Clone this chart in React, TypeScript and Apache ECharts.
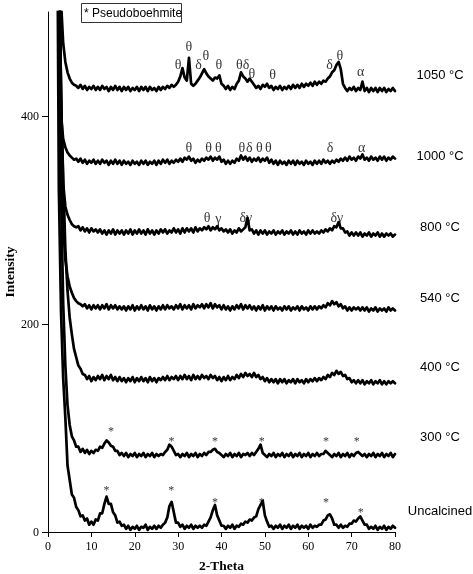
import React, { useEffect, useRef } from "react";
import * as echarts from "echarts";

// scan grid: 2θ from 2° to 80° in 0.5° steps
const twoTheta: number[] = Array.from({ length: 157 }, (_, i) => 2 + i * 0.5);

const uncalcined = [
  700, 330, 212, 148, 110, 64, 50, 36, 33, 24,
  21, 15, 16, 11, 13, 7, 10, 7, 12, 11,
  18, 18, 27, 34, 27, 27, 19, 16, 9, 10,
  6, 7, 3, 6, 2, 5, 3, 6, 2, 5,
  4, 7, 2, 5, 3, 6, 3, 6, 4, 7,
  9, 14, 25, 29, 19, 9, 9, 5, 7, 3,
  6, 4, 7, 3, 6, 4, 6, 4, 7, 6,
  10, 14, 21, 26, 16, 11, 6, 6, 3, 6,
  4, 7, 3, 6, 5, 8, 7, 10, 9, 12,
  11, 14, 15, 22, 26, 30, 16, 10, 5, 6,
  3, 6, 4, 7, 3, 6, 4, 7, 3, 6,
  4, 7, 3, 6, 4, 6, 3, 7, 4, 6,
  5, 7, 7, 11, 12, 16, 17, 13, 7, 7,
  4, 7, 4, 6, 5, 8, 8, 11, 10, 13,
  15, 11, 7, 7, 3, 5, 3, 6, 2, 5,
  3, 6, 2, 5, 3, 6, 4,
];

const c300 = [
  900, 520, 330, 220, 160, 122, 103, 92, 88, 82,
  82, 77, 80, 76, 79, 75, 78, 76, 79, 78,
  82, 81, 85, 88, 86, 83, 82, 78, 78, 74,
  76, 73, 76, 72, 75, 73, 76, 72, 75, 73,
  76, 72, 75, 73, 76, 72, 75, 73, 75, 74,
  77, 79, 84, 82, 78, 74, 75, 72, 75, 73,
  76, 72, 75, 73, 76, 72, 75, 73, 76, 74,
  77, 77, 79, 80, 77, 76, 74, 72, 75, 73,
  76, 72, 75, 73, 76, 72, 75, 74, 76, 73,
  76, 74, 77, 80, 84, 76, 74, 72, 75, 73,
  76, 72, 75, 73, 76, 72, 75, 73, 76, 72,
  75, 73, 76, 72, 75, 73, 76, 72, 75, 73,
  76, 73, 75, 75, 78, 76, 74, 72, 75, 73,
  76, 72, 75, 73, 76, 72, 75, 73, 76, 77,
  75, 73, 75, 72, 75, 73, 76, 72, 75, 73,
  76, 72, 75, 73, 76, 72, 75,
];

const c400 = [
  900, 600, 420, 340, 272, 232, 206, 190, 176, 168,
  160, 157, 152, 151, 147, 150, 145, 149, 146, 150,
  147, 151, 146, 150, 147, 151, 146, 149, 145, 149,
  145, 148, 144, 148, 145, 149, 144, 148, 145, 149,
  145, 148, 144, 149, 145, 148, 144, 148, 146, 149,
  146, 150, 146, 149, 147, 150, 146, 150, 147, 151,
  147, 150, 146, 151, 147, 150, 147, 151, 148, 150,
  147, 151, 148, 150, 146, 149, 145, 149, 146, 150,
  146, 149, 147, 151, 148, 152, 149, 153, 150, 152,
  149, 153, 149, 151, 147, 149, 145, 148, 144, 147,
  144, 147, 143, 147, 144, 147, 143, 146, 144, 147,
  143, 147, 144, 146, 143, 147, 144, 147, 145, 148,
  145, 148, 146, 149, 147, 151, 149, 153, 151, 155,
  152, 154, 150, 151, 147, 148, 144, 146, 143, 146,
  143, 146, 142, 145, 143, 146, 142, 145, 143, 146,
  142, 145, 142, 145, 143, 145, 143,
];

const c540 = [
  900, 600, 420, 295, 262, 246, 236, 230, 225, 222,
  220, 219, 217, 219, 215, 218, 214, 218, 215, 218,
  214, 218, 215, 219, 214, 218, 215, 218, 214, 217,
  214, 217, 213, 217, 214, 218, 213, 217, 214, 218,
  214, 217, 213, 218, 214, 217, 213, 217, 214, 218,
  214, 218, 215, 217, 214, 218, 215, 219, 214, 218,
  215, 218, 214, 219, 215, 218, 216, 219, 215, 219,
  216, 220, 215, 219, 216, 218, 214, 218, 214, 217,
  213, 217, 214, 218, 215, 219, 214, 218, 215, 218,
  214, 217, 213, 217, 214, 218, 213, 217, 214, 217,
  213, 217, 214, 216, 213, 217, 214, 217, 213, 216,
  214, 217, 213, 217, 214, 216, 213, 217, 214, 217,
  214, 217, 215, 218, 216, 220, 218, 222, 219, 221,
  217, 219, 215, 217, 213, 216, 213, 216, 214, 216,
  213, 216, 213, 216, 212, 215, 213, 216, 212, 215,
  213, 215, 212, 216, 213, 215, 213,
];

const c800 = [
  900, 600, 420, 335, 313, 305, 300, 296, 294, 293,
  294, 290, 293, 289, 292, 288, 292, 289, 291, 288,
  291, 287, 290, 286, 290, 287, 291, 286, 290, 287,
  290, 286, 290, 287, 291, 286, 290, 287, 291, 287,
  290, 286, 291, 287, 290, 286, 290, 287, 291, 288,
  291, 287, 290, 288, 292, 288, 291, 287, 292, 288,
  292, 289, 292, 288, 293, 289, 292, 290, 293, 291,
  294, 290, 293, 291, 294, 290, 292, 289, 291, 288,
  291, 287, 290, 288, 292, 289, 291, 293, 302, 290,
  291, 287, 290, 286, 290, 287, 290, 286, 289, 287,
  290, 286, 289, 287, 290, 286, 289, 287, 290, 286,
  289, 286, 290, 287, 289, 286, 290, 287, 290, 287,
  289, 287, 290, 288, 291, 289, 292, 290, 294, 293,
  298, 292, 292, 288, 289, 285, 288, 285, 288, 285,
  288, 284, 287, 285, 288, 284, 287, 285, 288, 284,
  287, 284, 287, 285, 287, 284, 286,
];

const c1000 = [
  900, 620, 400, 378, 370, 365, 362, 360, 358, 359,
  356, 359, 355, 358, 354, 357, 355, 358, 354, 357,
  354, 358, 355, 357, 353, 357, 354, 358, 354, 357,
  353, 357, 354, 356, 353, 357, 354, 356, 353, 357,
  354, 357, 353, 356, 354, 357, 353, 357, 354, 358,
  355, 358, 354, 357, 355, 358, 356, 359, 356, 360,
  358, 361, 357, 359, 355, 358, 356, 359, 357, 360,
  358, 361, 357, 360, 358, 361, 356, 358, 354, 357,
  354, 357, 355, 359, 357, 362, 358, 361, 357, 360,
  356, 359, 357, 360, 356, 359, 357, 360, 355, 358,
  354, 357, 353, 357, 354, 356, 353, 357, 354, 357,
  353, 357, 354, 356, 353, 357, 354, 356, 353, 357,
  354, 357, 354, 358, 355, 357, 354, 357, 355, 358,
  356, 359, 357, 360, 357, 361, 358, 360, 357, 361,
  359, 363, 358, 360, 357, 361, 358, 360, 357, 361,
  358, 361, 357, 360, 358, 361, 359,
];

const c1050 = [
  900, 650, 510, 470, 452, 442, 436, 432, 430, 429,
  427, 430, 426, 429, 425, 428, 426, 429, 425, 428,
  425, 429, 426, 428, 424, 428, 425, 429, 425, 428,
  424, 428, 425, 428, 424, 427, 425, 428, 424, 428,
  425, 428, 424, 428, 425, 427, 424, 428, 425, 428,
  426, 429, 427, 430, 428, 430, 433, 438, 446, 437,
  434, 456, 431, 429, 431, 434, 437, 441, 445, 441,
  438, 436, 434, 437, 436, 439, 431, 429, 426, 429,
  425, 428, 426, 431, 434, 442, 438, 436, 433, 436,
  433, 430, 427, 429, 426, 430, 428, 431, 427, 429,
  425, 428, 426, 429, 425, 428, 426, 429, 426, 430,
  427, 430, 427, 431, 428, 431, 429, 432, 429, 433,
  430, 433, 431, 434, 433, 436, 438, 442, 444, 449,
  452, 445, 431, 427, 424, 427, 425, 428, 424, 427,
  425, 433, 424, 427, 423, 427, 424, 427, 423, 427,
  424, 427, 423, 426, 424, 427, 424,
];

const traceNames = ["Uncalcined", "300 °C", "400 °C", "540 °C", "800 °C", "1000 °C", "1050 °C"];
const traceValues = [uncalcined, c300, c400, c540, c800, c1000, c1050];

// phase markers: [text, 2θ, intensity]
const phaseMarks1050: [string, number, number][] = [
  ["θ", 30.0, 450], ["θ", 32.5, 467], ["δ", 34.7, 450], ["θ", 36.4, 458],
  ["θ", 39.4, 450], ["θδ", 44.9, 450], ["θ", 47.0, 441], ["θ", 51.8, 440],
  ["δ", 64.9, 450], ["θ", 67.3, 458], ["α", 72.1, 443],
];
const phaseMarks1000: [string, number, number][] = [
  ["θ", 32.5, 370], ["θ", 37.0, 370], ["θ", 39.3, 370], ["θ", 44.7, 370],
  ["δ", 46.4, 370], ["θ", 48.7, 370], ["θ", 50.8, 370], ["δ", 65.0, 370],
  ["α", 72.3, 370],
];
const phaseMarks800: [string, number, number][] = [
  ["θ", 36.7, 302], ["γ", 39.3, 301], ["δγ", 45.6, 302], ["δγ", 66.6, 302],
];
const pseudoMarks300: [number, number][] = [
  [14.5, 100], [28.5, 90], [38.5, 90], [49.3, 90], [64.1, 90], [71.2, 90],
];
const pseudoMarksUncalcined: [number, number][] = [
  [13.5, 43], [28.4, 43], [38.5, 32], [49.3, 32], [64.1, 32], [72.1, 22],
];

const xTicks = [0, 10, 20, 30, 40, 50, 60, 70, 80];
const yTicks = [0, 200, 400];

const serif = '"Liberation Serif", "Times New Roman", Times, serif';
const sans = '"Liberation Sans", Arial, Helvetica, sans-serif';

export default function App() {
  const ref = useRef<HTMLDivElement>(null);
  useEffect(() => {
    if (!ref.current) return;
    const chart = echarts.init(ref.current, undefined, { renderer: "svg" });

    const lineSeries = traceValues.map((vals, k) => ({
      type: "line",
      name: traceNames[k],
      data: vals.map((v, i) => [twoTheta[i], v]),
      showSymbol: false,
      symbol: "none",
      clip: true,
      lineStyle: { color: "#000", width: 2.7, join: "round", cap: "round" },
      z: 2,
    }));

    const greek = [...phaseMarks1050, ...phaseMarks1000, ...phaseMarks800];

    chart.setOption({
      animation: false,
      grid: {
        left: 48, right: 78, top: 12, bottom: 42,
        containLabel: false,
        outerBoundsMode: "none",
      },
      xAxis: {
        type: "value",
        min: 0,
        max: 80,
        interval: 10,
        name: "2-Theta",
        nameLocation: "middle",
        nameGap: 26,
        nameMoveOverlap: false,
        nameTextStyle: { fontFamily: serif, fontWeight: "bold", fontSize: 13.5, color: "#000" },
        axisLine: { lineStyle: { color: "#000", width: 1 } },
        axisTick: { length: 5, lineStyle: { color: "#000" }, customValues: xTicks },
        axisLabel: { fontFamily: serif, fontSize: 12, color: "#000", margin: 8, customValues: xTicks },
        splitLine: { show: false },
      },
      yAxis: {
        type: "value",
        min: 0,
        max: 500,
        interval: 200,
        name: "Intensity",
        nameLocation: "middle",
        nameGap: 32,
        nameMoveOverlap: false,
        nameRotate: 90,
        nameTextStyle: { fontFamily: serif, fontWeight: "bold", fontSize: 13.5, color: "#000" },
        axisLine: { show: true, lineStyle: { color: "#000", width: 1 } },
        axisTick: { show: true, length: 6, lineStyle: { color: "#000" }, customValues: yTicks },
        axisLabel: { fontFamily: serif, fontSize: 12, color: "#000", margin: 9, customValues: yTicks },
        splitLine: { show: false },
      },
      series: [
        ...lineSeries,
        {
          type: "scatter",
          symbolSize: 0,
          silent: true,
          clip: false,
          data: greek.map(([t, x, y]) => ({ name: t, value: [x, y] })),
          label: {
            show: true,
            position: "inside",
            formatter: (p: any) => p.name,
            fontFamily: serif,
            fontSize: 14,
            color: "#000",
          },
          z: 3,
        },
        {
          type: "scatter",
          symbolSize: 0,
          silent: true,
          clip: false,
          data: [...pseudoMarks300, ...pseudoMarksUncalcined].map(([x, y]) => ({ name: "*", value: [x, y] })),
          label: {
            show: true,
            position: "inside",
            formatter: "*",
            fontFamily: serif,
            fontSize: 12,
            color: "#000",
            offset: [0, 3],
          },
          z: 3,
        },
      ],
      graphic: [
        {
          type: "rect",
          shape: { x: 81.5, y: 3.5, width: 100, height: 19 },
          style: { fill: "#fff", stroke: "#333", lineWidth: 1 },
          z: 10,
        },
        {
          type: "text",
          x: 84,
          y: 13,
          style: { text: "* Pseudoboehmite", font: `12px ${sans}`, fill: "#000", verticalAlign: "middle", align: "left" },
          z: 11,
        },
        ...[
          ["1050 °C", 74],
          ["1000 °C", 155],
          ["800 °C", 226],
          ["540 °C", 297],
          ["400 °C", 366],
          ["300 °C", 436],
          ["Uncalcined", 510],
        ].map(([t, y]) => ({
          type: "text",
          x: 440,
          y: y as number,
          style: { text: t as string, font: `13px ${sans}`, fill: "#000", align: "center", verticalAlign: "middle" },
          z: 11,
        })),
      ],
    });
    return () => chart.dispose();
  }, []);
  return <div ref={ref} style={{ position: "fixed", left: 0, top: 0, width: 473, height: 574 }} />;
}
